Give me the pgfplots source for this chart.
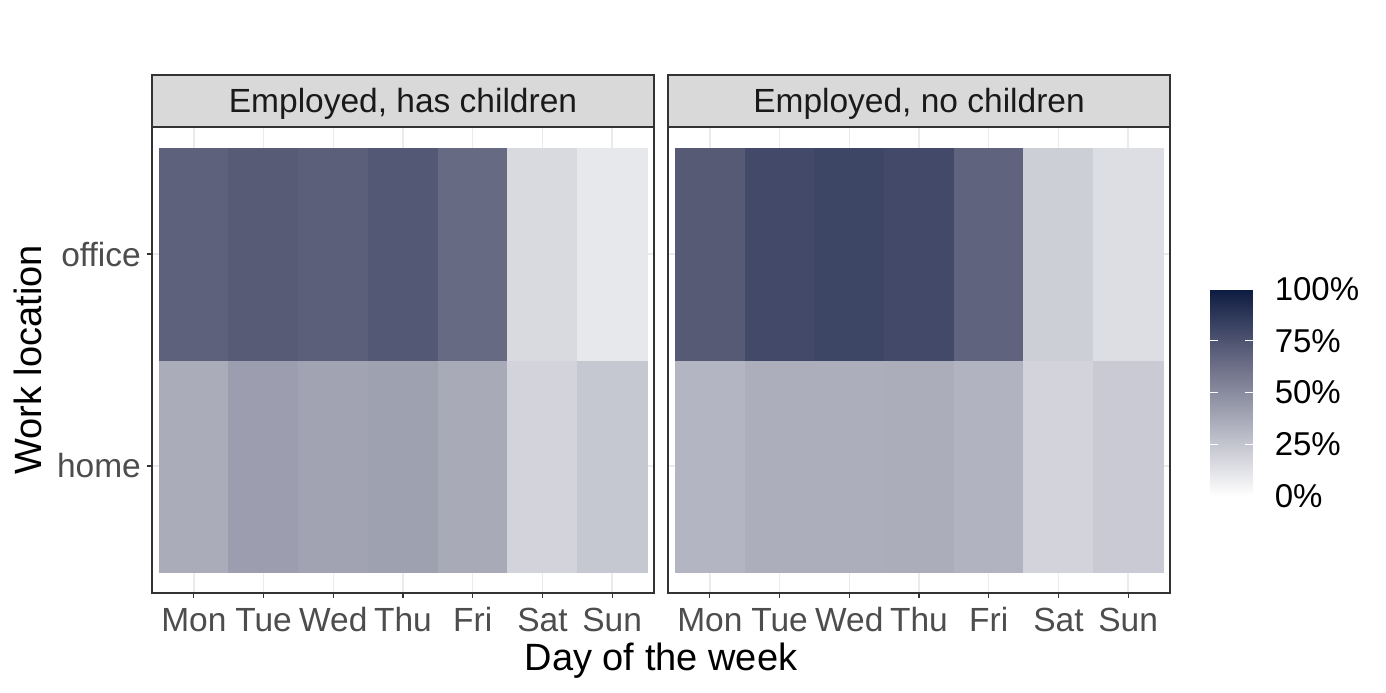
\documentclass[border=0pt]{standalone}
\usepackage{fontspec}
\setmainfont{Liberation Sans}
\usepackage{pgfplots}
\pgfplotsset{compat=1.18}
\usepackage{pgfplotstable}

\definecolor{gray92}{HTML}{EBEBEB}
\definecolor{gray20}{HTML}{333333}
\definecolor{gray30}{HTML}{4D4D4D}
\definecolor{gray85}{HTML}{D9D9D9}
\definecolor{gray10}{HTML}{1A1A1A}

% y: 1 = home, 2 = office ; c = share
\pgfplotstableread{
x y c
1 1 0.36
2 1 0.42
3 1 0.40
4 1 0.41
5 1 0.37
6 1 0.19
7 1 0.24
1 2 0.69
2 2 0.715
3 2 0.70
4 2 0.73
5 2 0.65
6 2 0.16
7 2 0.10
}\haschildren

\pgfplotstableread{
x y c
1 1 0.32
2 1 0.35
3 1 0.35
4 1 0.355
5 1 0.33
6 1 0.19
7 1 0.23
1 2 0.72
2 2 0.79
3 2 0.81
4 2 0.79
5 2 0.68
6 2 0.21
7 2 0.145
}\nochildren

\pgfplotsset{
  colormap={gg}{rgb255(0pt)=(255,255,255) rgb255(36pt)=(170,172,186)
    rgb255(69pt)=(94,97,123) rgb255(81pt)=(62,70,101) rgb255(100pt)=(13,27,64)},
  panel/.style={
    width=502pt, height=466pt, scale only axis,
    xmin=0.4, xmax=7.6, ymin=0.4, ymax=2.6,
    xtick={1,2,3,4,5,6,7},
    xticklabels={Mon,Tue,Wed,Thu,Fri,Sat,Sun},
    ytick={1,2},
    grid=major,
    major grid style={color=gray92, line width=1.4pt},
    axis line style={draw=gray20, line width=1.3pt},
    tick style={draw=gray20, line width=1.3pt},
    major tick length=5pt, tick align=outside,
    xtick pos=bottom, ytick pos=left,
    ticklabel style={font=\fontsize{33.5}{33.5}\selectfont, text=gray30},
    xticklabel style={anchor=base, yshift=-33pt},
    yticklabel style={anchor=east, inner sep=0pt, xshift=-6pt},
    colormap name=gg, point meta min=0, point meta max=1,
  },
}

\begin{document}
\begin{tikzpicture}[x=1pt,y=1pt]
\useasboundingbox (0,0) rectangle (1386,693);

\begin{axis}[panel, at={(152pt,100pt)}, anchor=south west,
  yticklabels={home,office}]
  \addplot[matrix plot*, mesh/cols=7, point meta=explicit]
    table[x=x, y=y, meta=c] {\haschildren};
\end{axis}

\begin{axis}[panel, at={(668pt,100pt)}, anchor=south west,
  yticklabels={}, ytick style={draw=none},
  colorbar,
  colorbar/width=42pt,
  colorbar style={
    at={(parent axis.south east)}, anchor=south west,
    xshift=32pt, yshift=97pt,
    width=42pt, height=207pt, scale only axis,
    ytick={0,0.25,0.5,0.75,1},
    yticklabels={0\%,25\%,50\%,75\%,100\%},
    yticklabel pos=right, ytick pos=right,
    tick align=inside, major tick length=8pt,
    tick style={draw=white, line width=1.3pt},
    axis line style={draw=none},
    yticklabel style={font=\fontsize{33}{33}\selectfont, text=black,
      anchor=west, inner sep=0pt, xshift=22pt},
  }]
  \addplot[matrix plot*, mesh/cols=7, point meta=explicit]
    table[x=x, y=y, meta=c] {\nochildren};
\end{axis}

% left-side white ticks of the colour bar
\begin{axis}[at={(1210pt,197pt)}, anchor=south west,
  width=42pt, height=207pt, scale only axis,
  xmin=0, xmax=1, ymin=0, ymax=1,
  xtick=\empty, ytick={0.25,0.5,0.75}, yticklabels={},
  ytick pos=left, tick align=inside, major tick length=8pt,
  tick style={draw=white, line width=1.3pt},
  axis line style={draw=none}]
\end{axis}

% facet strips
\draw[fill=gray85, draw=gray20, line width=1.3pt] (152,566) rectangle (654,618);
\draw[fill=gray85, draw=gray20, line width=1.3pt] (668,566) rectangle (1170,618);
\node[anchor=base, text=gray10, font=\fontsize{33.5}{33.5}\selectfont, inner sep=0pt]
  at (403,580) {Employed, has children};
\node[anchor=base, text=gray10, font=\fontsize{33.5}{33.5}\selectfont, inner sep=0pt]
  at (919,580) {Employed, no children};

% axis titles
\node[anchor=base, font=\fontsize{38}{38}\selectfont, inner sep=0pt]
  at (661,22) {Day of the week};
\node[anchor=base, rotate=90, font=\fontsize{38}{38}\selectfont, inner sep=0pt]
  at (41,333) {Work location};
\end{tikzpicture}
\end{document}
